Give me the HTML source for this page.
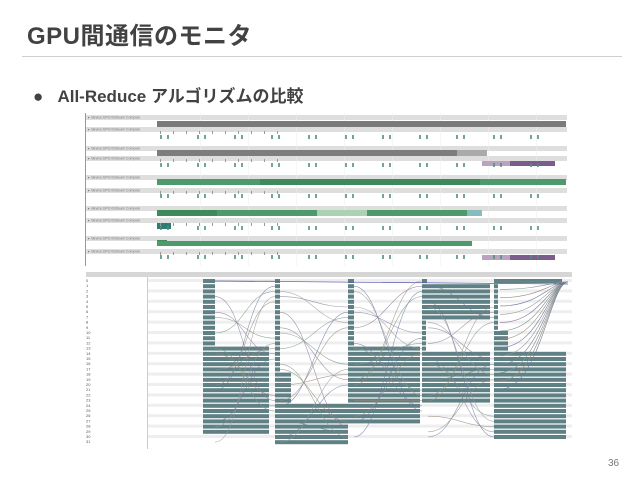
<!DOCTYPE html>
<html><head><meta charset="utf-8"><style>
body{margin:0;background:#fff;width:638px;height:478px;overflow:hidden;position:relative;font-family:"Liberation Sans","Noto Sans CJK JP",sans-serif;color:#424242}
.t{position:absolute;left:27px;top:16px;font-size:24px;font-weight:bold;letter-spacing:0.5px}
.hr{position:absolute;left:22px;top:56px;width:600px;height:1px;background:#cfcfcf}
.b{position:absolute;left:33px;top:82px;font-size:17px;font-weight:bold}
.n{position:absolute;left:608px;top:458px;font-size:10px;color:#777}
svg{position:absolute;left:0;top:0}
</style></head><body>
<div class="t">GPU間通信のモニタ</div>
<div class="hr"></div>
<div class="b">●&nbsp;&nbsp;&nbsp;All-Reduce アルゴリズムの比較</div>
<div class="n">36</div>
<svg id="s" width="638" height="478" xmlns="http://www.w3.org/2000/svg"></svg>
<script>
const s=document.getElementById('s');let h='';
function r(x,y,w,hh,c,o){h+=`<rect x="${x}" y="${y}" width="${w}" height="${hh}" fill="${c}"${o?` opacity="${o}"`:''}/>`;}
// top image
r(85,113,482,153,'#fff');r(85,113,1,153,'#999');
const hdr=[117,129,148,158,177,190,208,220,238,251];
hdr.forEach(y=>{r(86,y-2,481,5,'#dedede');h+=`<text x="88" y="${y+1.5}" font-size="3.5" fill="#777">▸ /device:GPU:0/stream Compute</text>`;});
for(let x=200;x<567;x+=48)r(x,113,0.5,153,'#eee');
// data rows
r(157,121,409,6,'#7a7a7a');
r(157,150,300,6,'#7d7d7d');r(457,150,30,6,'#aaa');
r(157,179,409,6,'#4f9a6a');r(260,179,220,6,'#3f8a5a');
r(157,210,60,6,'#3f8a5a');r(217,210,100,6,'#4f9a6a');r(317,210,50,6,'#a9d3b3');r(367,210,100,6,'#4f9a6a');r(467,210,15,6,'#8bb');
r(157,240,10,6,'#3f8a5a');r(157,241,315,5,'#4f9a6a');
r(157,223,14,6,'#2f7d70');
r(482,161,28,5,'#b9a3c0');r(510,161,45,5,'#7c5c8c');
r(482,255,28,5,'#b9a3c0');r(510,255,45,5,'#7c5c8c');
for(const y of [135,163,194,226,255]){for(let i=0;i<22;i++){const x=160+((i*37)%400);r(x,y,2,4,'#4f8f7a',0.8);}}
for(const y of [131,159,191,223,252]){for(let i=0;i<10;i++){r(160+i*13,y,1,3,'#999');}}
// bottom image
r(85,270,487,180,'#fff');
r(86,272,486,5,'#d6d6d6');
for(let i=0;i<32;i++){const y=280+i*5.2;if(i%2==0)r(147,y-1,425,3,'#eee');
h+=`<text x="86" y="${y+2}" font-size="4" fill="#555">${i}</text>`;}
r(147,277,1,172,'#ccc');
const bc='#5f8084';
function col(x,rows,w){rows.forEach(i=>r(x,279+i*5.2,w,4,bc));}
function rng(a,b){let o=[];for(let i=a;i<=b;i++)o.push(i);return o;}
col(203,rng(0,12),12);col(203,rng(13,29),66);
col(275,rng(0,17),5);col(275,rng(18,23),16);col(275,rng(24,31),73);
col(348,rng(0,12),6);col(348,rng(13,27),72);
col(422,[0],5);col(422,rng(1,7),68);col(422,rng(8,13),4);col(422,rng(14,23),68);
col(494,[0],68);col(494,rng(1,9),4);col(494,rng(10,13),14);col(494,rng(14,30),72);
// curves
const cols=['#8a7a9a','#7a9a8a','#9a8a7a','#6a7aa0','#999'];
for(let k=0;k<4;k++){const xs=[215,280,354,428][k],xe=[275,348,422,494][k];
for(let j=0;j<14;j++){const y1=281+((j*7+k*3)%32)*5.2,y2=281+((j*11+k*5)%32)*5.2;
h+=`<path d="M${xs} ${y1} C${xs+30} ${y1},${xe-30} ${y2},${xe} ${y2}" stroke="${cols[j%5]}" stroke-width="0.6" fill="none" opacity="0.8"/>`;}}
for(let j=0;j<14;j++){const y=281+j*5.2*1.6;h+=`<path d="M500 ${y} C540 ${y},550 282,568 282" stroke="${cols[j%5]}" stroke-width="0.6" fill="none"/>`;}
h+=`<path d="M215 281 L568 284" stroke="#55a" stroke-width="0.7"/>`;
s.innerHTML=h;
</script>
</body></html>
